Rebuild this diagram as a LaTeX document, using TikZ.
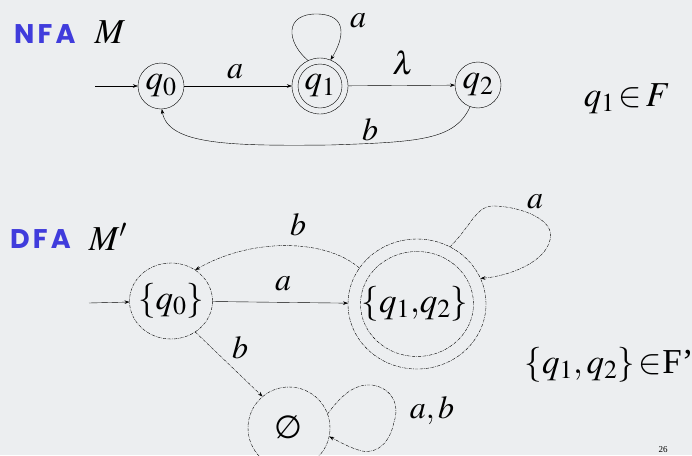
\documentclass[tikz,border=0pt]{standalone}
\usepackage{mathptmx}
\usepackage[no-math]{fontspec}
\setmainfont{Liberation Serif}
\newfontfamily\labfont[LetterSpace=12]{Poppins}
\newfontfamily\symfont{DejaVu Sans}
\usetikzlibrary{arrows.meta,shapes.geometric}
\definecolor{bgc}{RGB}{236,238,240}
\definecolor{labblue}{RGB}{64,60,220}
\begin{document}
\begin{tikzpicture}[x=1pt,y=-1pt,
  every node/.style={inner sep=0pt,outer sep=0pt},
  st/.style={circle,draw,thin,minimum size=46pt,font=\fontsize{35}{36}\selectfont},
  dsh/.style={thin,dash pattern=on 3pt off 1pt on 0.6pt off 1pt},
  dst/.style={ellipse,draw,dsh},
  txt/.style={font=\fontsize{35}{36}\selectfont},
  edge/.style={draw,thin,-{Stealth[length=5pt,width=3.5pt]}},
  dedge/.style={draw,dsh,-{Stealth[length=5pt,width=3.5pt]}},
  lab/.style={font=\fontsize{32}{34}\selectfont,anchor=base},
  tit/.style={font=\labfont\bfseries\fontsize{27}{29}\selectfont,text=labblue,anchor=base west}]
\fill[bgc] (0,0) rectangle (692,455);
\useasboundingbox (0,0) rectangle (692,455);
% NFA
\node[tit] (nfa) at (14,43) {NFA};
\node[lab,font=\fontsize{35}{36}\selectfont] (M) at (110,43) {$M$};
\node[st] (q0) at (161,86) {$q_0$};
\node[st,minimum size=56pt] (q1) at (320,86) {};
\node[circle,draw,thin,minimum size=44pt,font=\fontsize{35}{36}\selectfont] (q1i) at (320,86) {$q_1$};
\node[st] (q2) at (478,85) {$q_2$};
\coordinate (s0) at (95,86);
\draw[edge] (s0) -- (q0);
\draw[edge] (q0) -- (q1);
\node[lab] (la0) at (235,78) {$a$};
\draw[edge] (q1) -- (q2);
\node[lab] (ll) at (403,74) {$\lambda$};
\draw[edge] (q1.115) .. controls (286,42) and (284,13) .. (318,14) .. controls (348,15) and (344,38) .. (q1.68);
\node[lab] (la1) at (358,27) {$a$};
\draw[edge] (q2.250) .. controls (455,140) and (420,142) .. (330,145) .. controls (230,146) and (168,145) .. (q0.272);
\node[lab] (lb1) at (370,140) {$b$};
\node[lab,font=\fontsize{35}{36}\selectfont] (inF) at (627,106) {$q_1\!\in\! F$};
% DFA
\node[tit] (dfa) at (10,248) {DFA};
\node[lab,font=\fontsize{35}{36}\selectfont] (M2) at (108,250) {$M'$};
\node[dst,minimum width=83pt,minimum height=76pt] (Q0) at (171,301) {};
\node[txt] (Q0t) at (171,301) {$\{q_0\}$};
\node[dst,minimum width=138pt,minimum height=130pt] (Q12) at (417,304) {};
\node[dst,minimum width=113pt,minimum height=105pt] (Q12i) at (417,304) {};
\node[txt] (Q12t) at (415,304) {$\{q_1,\!q_2\}$};
\node[dst,minimum size=82pt] (E) at (289,428) {};
\node[font=\symfont\fontsize{32}{34}\selectfont] (Et) at (288,427) {∅};
\coordinate (s1) at (89,303);
\draw[edge] (s1) -- (Q0);
\draw[edge] (Q0) -- (Q12);
\node[lab] (la2) at (283,290) {$a$};
\draw[dedge] (Q12.148) .. controls (325,238) and (250,238) .. (Q0.52);
\node[lab] (lb2) at (298,235) {$b$};
\draw[dedge] (Q0.-52) -- (E.130);
\node[lab] (lb3) at (240,358) {$b$};
\draw[dedge] (Q12.60) .. controls (472,225) and (476,205) .. (495,206) .. controls (522,207) and (556,220) .. (550,240) .. controls (545,262) and (510,276) .. (Q12.22);
\node[lab] (la3) at (535,208) {$a$};
\draw[dedge] (E.20) .. controls (345,390) and (358,384) .. (372,385) .. controls (392,388) and (400,405) .. (394,422) .. controls (390,442) and (378,454) .. (362,451) .. controls (350,448) and (340,442) .. (E.-12);
\node[lab] (lab3) at (432,418) {$a,b$};
\node[lab,font=\fontsize{35}{36}\selectfont] (inF2) at (609,373) {$\{q_1,q_2\}\!\in$F\textquoteright};
\node[font=\fontsize{9}{10}\selectfont,anchor=base] (pg) at (663,452) {26};
\end{tikzpicture}
\end{document}
